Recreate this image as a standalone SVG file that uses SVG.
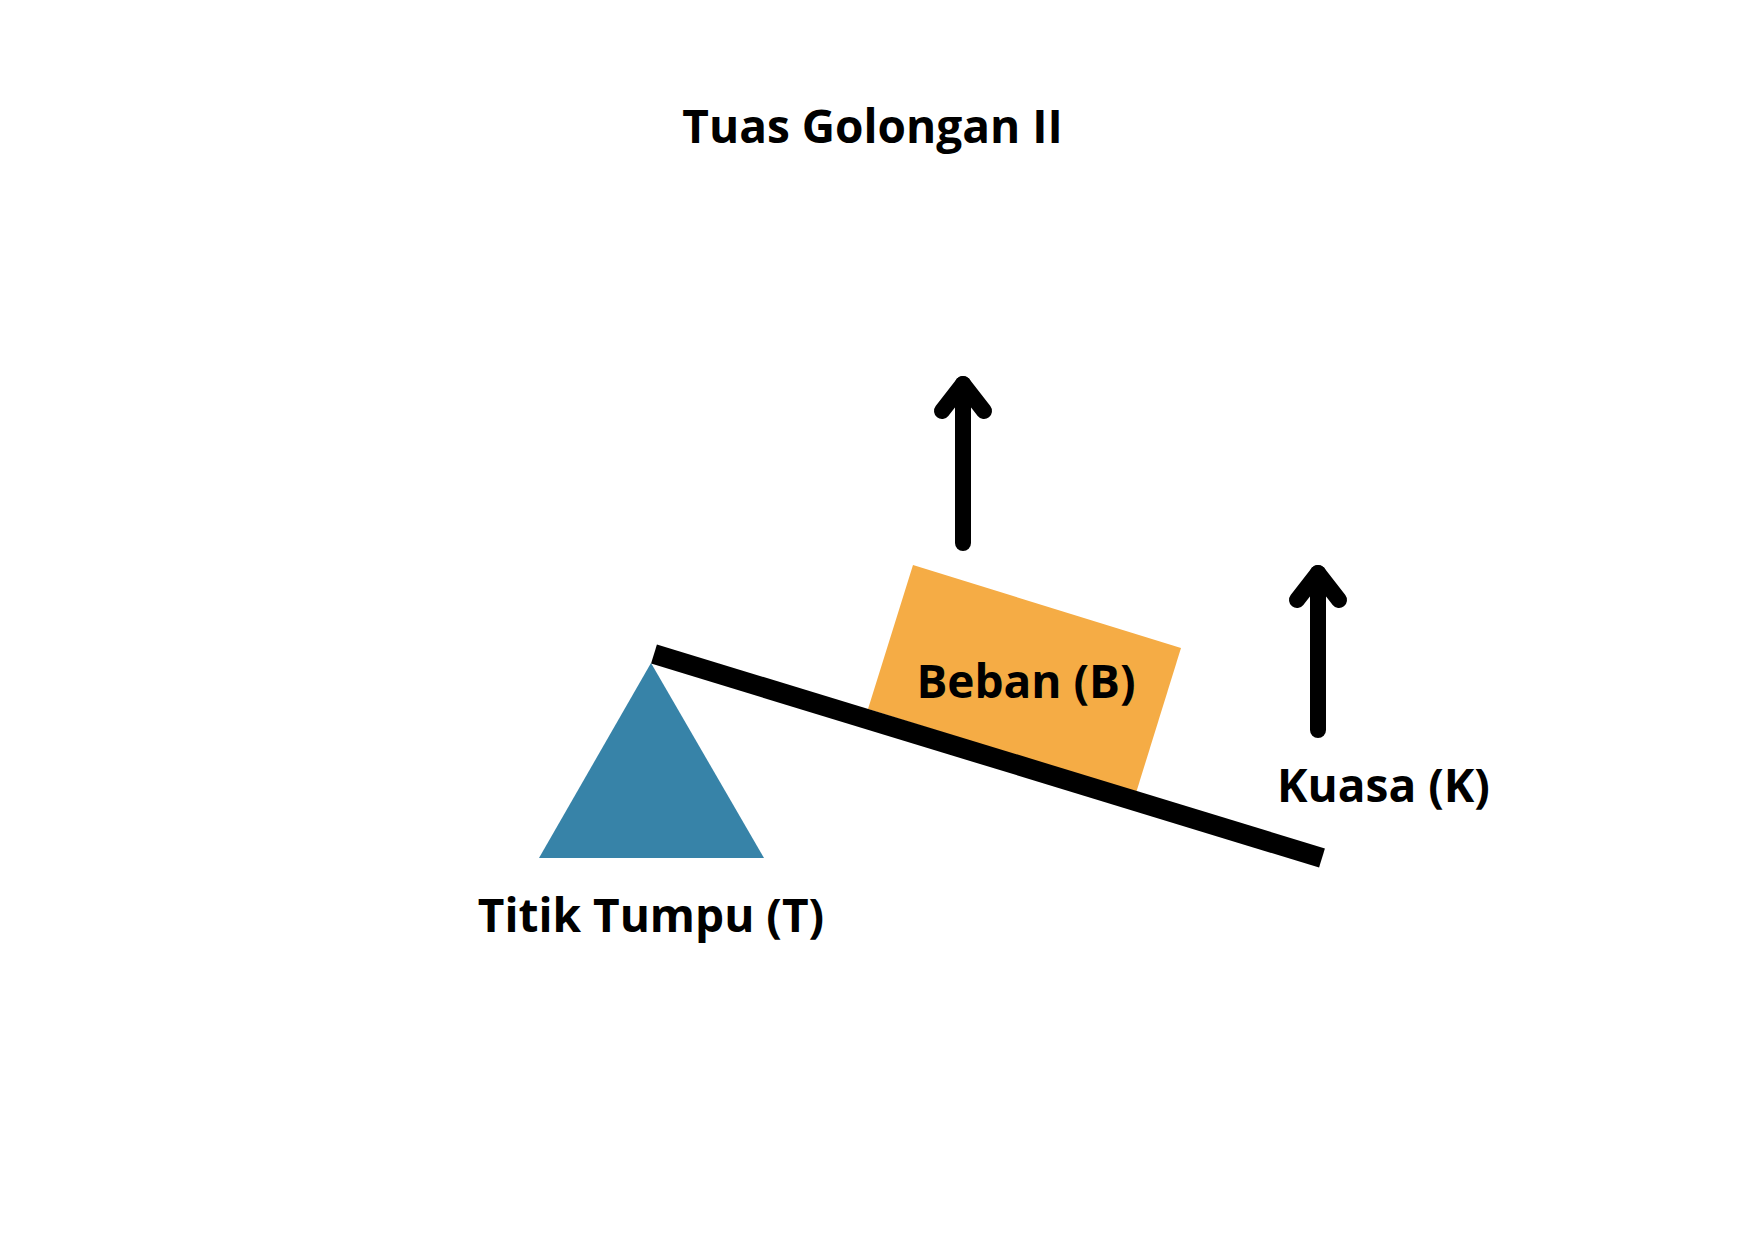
<svg xmlns="http://www.w3.org/2000/svg" width="1748" height="1240" viewBox="0 0 1748 1240">
<style>
text{font-family:"Open Sans","Noto Sans","Liberation Sans",sans-serif;font-weight:700;fill:#000;text-anchor:middle}
.t{font-size:46px}
.arrow{fill:none;stroke:#000;stroke-width:16;stroke-linecap:round;stroke-linejoin:round}
</style>
<rect width="1748" height="1240" fill="#fff"/>
<text id="title" class="t" x="872.5" y="143">Tuas Golongan II</text>
<g id="fulcrum">
<polygon points="651,663 539,858 764,858" fill="#3783A8"/>
<text class="t" x="651" y="932">Titik Tumpu (T)</text>
</g>
<g id="load">
<polygon points="913,565 1181,648 1136,793 868,709" fill="#F5AC45"/>
<text class="t" x="1026" y="698">Beban (B)</text>
</g>
<g id="lever">
<line x1="654" y1="654" x2="1322" y2="858" stroke="#000" stroke-width="20"/>
</g>
<g id="effort">
<text class="t" x="1383.5" y="802">Kuasa (K)</text>
</g>
<g id="connectors">
<line class="arrow" x1="963" y1="543" x2="963" y2="384"/>
<polyline class="arrow" points="942,411 963,384 984,411"/>
<line class="arrow" x1="1318" y1="730" x2="1318" y2="573"/>
<polyline class="arrow" points="1297,600 1318,573 1339,600"/>
</g>
</svg>
